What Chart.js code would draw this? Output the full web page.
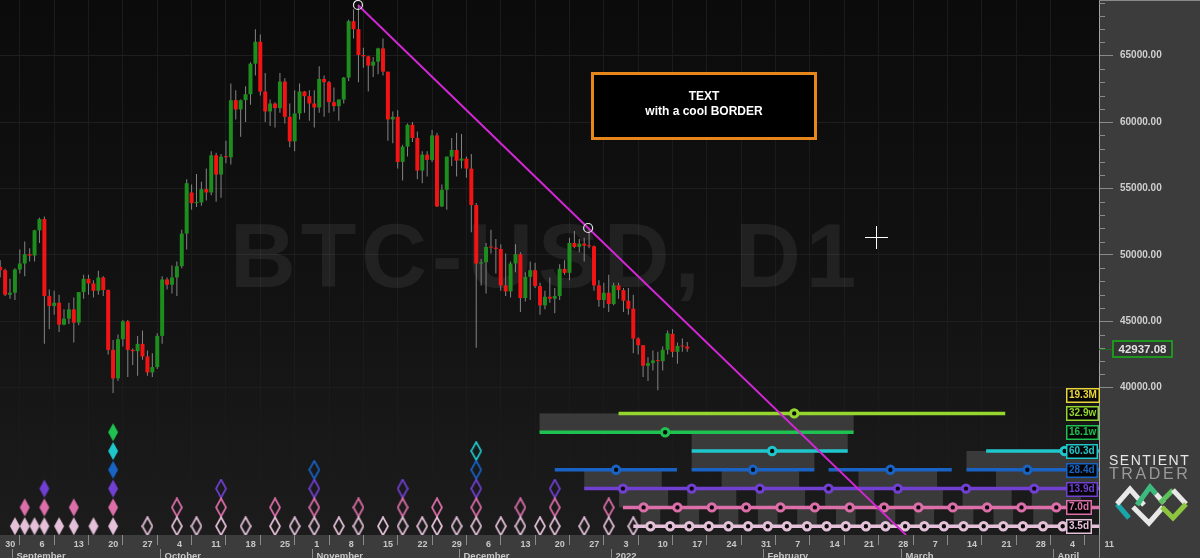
<!DOCTYPE html>
<html><head><meta charset="utf-8">
<script src="https://cdn.jsdelivr.net/npm/chart.js@4.4.1/dist/chart.umd.min.js"></script>
<style>html,body{margin:0;padding:0;background:#3c3c3c;overflow:hidden}canvas{display:block}</style>
</head><body>
<canvas id="c" width="1200" height="558"></canvas>
<script>
// ---- data (x = days relative to Mon 6 Sep 2021) ----
const firstDay = -8; // 29 Aug 2021
const opens = [49100,48850,47000,47150,48900,49350,50050,49950,51850,52700,
46900,46150,46400,44750,45200,45900,44900,47200,48200,47850,
47300,48300,47350,42850,40700,43650,45000,42850,42750,43300,
42350,41150,41550,43900,48150,47750,48300,49150,51600,54700,
53900,53950,54950,54700,57500,56050,57400,57350,61650,60950,
61650,62100,64400,66050,62300,60800,61400,61050,63050,60400,
58550,60650,62300,61950,61400,61100,63250,63000,61500,61200,
61700,63350,67600,67000,65050,64950,64250,64550,65550,63800,
60200,60400,57000,58150,59800,58800,56350,57550,57150,59000,
53650,54900,57400,57900,57100,57250,56500,53750,49350,49450,
50600,50550,50450,47700,47250,49350,50050,46750,48350,48850,
47650,46200,46850,46700,46900,48950,48650,50900,50600,50850,
50700,50650,47700,46600,47150,46300,47700,47350,46550,45950,
43700,43200,41650,41850,42050,42000,42850,44050,42700,43150,
43100];
const highs = [49600,48950,48200,49000,50400,51000,50500,51900,52800,52900,
47400,47300,47000,45900,46400,46800,47200,48500,48500,48100,
48800,48400,47400,43600,44000,45100,45100,42950,43900,44300,
42800,42600,44100,48400,48300,49200,49500,51900,55700,55300,
56100,55500,56500,57800,57700,57600,58600,62900,62400,61700,
62700,64500,67000,66600,63700,61700,61500,63700,63300,61400,
62400,62900,62350,62400,62400,64200,63500,63100,62600,61700,
63400,67700,68500,68800,65600,65000,64900,65600,66300,63800,
60800,60900,58300,59900,60000,59300,57800,57800,59400,59200,
55300,57400,58800,59200,59100,57400,57600,53900,49700,50900,
51900,51200,50800,50100,49500,50800,50200,48700,49500,49400,
47900,47300,48300,47500,49300,49600,51300,51800,51200,51300,
51950,50700,48100,47900,48500,47900,47900,47500,47500,47000,
43800,43200,42300,42800,42700,43100,44300,44400,43400,43700,
43450];
const lows = [48300,46900,46700,46600,48600,48400,49500,49500,50900,43300,
44400,45500,44200,44700,44800,43400,44700,46700,47000,46800,
47000,46900,42500,39600,40500,43100,40800,41700,40900,42100,
40900,40800,41400,43300,47400,47100,46900,49000,50400,53400,
53600,53700,54100,54500,54000,54300,56900,56800,60200,58900,
60000,61300,63500,62000,60000,59700,59600,60700,59900,58100,
57800,60200,60700,60100,59600,60700,60400,60700,60800,60100,
61400,63100,66300,63000,64100,62300,63400,63600,63500,58600,
58400,56500,55600,57400,58500,55700,55400,55900,57000,53600,
53600,53400,56700,55900,56500,55800,51700,43000,47700,47100,
50100,48600,47300,46900,46800,48700,45700,46500,46600,47500,
45500,45900,46400,45600,46600,48500,48100,50500,50200,49500,
50500,47300,46100,46000,45700,46200,46700,45700,45500,42600,
42500,40800,40500,41300,39800,41300,42500,42300,41800,42700,
42700];
const closes = [48850,47000,47150,48900,49350,50050,49950,51850,52700,46900,
46150,46400,44750,45200,45900,44900,47200,48200,47850,47300,
48300,47350,42850,40700,43650,45000,42850,42750,43300,42350,
41150,41550,43900,48150,47750,48300,49150,51600,55400,53900,
53950,54950,54700,57500,56050,57400,57350,61650,60950,61650,
62100,64400,66050,62300,60800,61400,61050,63050,60400,58550,
60650,62300,61950,61400,61100,63250,63000,61500,61200,61700,
63350,67600,67000,65050,64950,64250,64550,65550,63800,60200,
60400,57000,58150,59800,58800,56350,57550,57150,59000,53650,
54900,57400,57900,57100,57250,56500,53750,49350,49450,50600,
50550,50450,47700,47250,49350,50050,46750,48350,48850,47650,
46200,46850,46700,46900,48950,48650,50900,50600,50850,50700,
50650,47700,46600,47150,46300,47700,47350,46550,45950,43700,
43200,41650,41850,42050,42000,42850,44100,42700,43150,43100,
42937.08];
const lastPrice = 42937.08;

const weekTickDays = [-7,0,7,14,21,28,35,42,49,56,63,70,77,84,91,98,105,112,119,126,133,140,147,154,161,168,175,182,189,196,203,210,217];
const weekTickLabels = ['30','6','13','20','27','4','11','18','25','1','8','15','22','29','6','13','20','27','3','10','17','24','31','7','14','21','28','7','14','21','28','4','11'];
const monthStartDays = [-5,25,56,86,117,148,176,207];
const monthLabels = ['September','October','November','December','2022','February','March','April'];
const priceTicks = [40000,45000,50000,55000,60000,65000];

const trendX = [64.9, 111.8, 176.6];
const trendY = [68820, 52025, 28900];

const cycleNames = ['3.5d','7.0d','13.9d','28.4d','60.3d','16.1w','32.9w','19.3M'];
const cycleColors = ['#e4c0d9','#dc6fa9','#7140d2','#1863c4','#1fc7cc','#1fc150','#95d72e','#ead63c'];
const pastTroughs = [[-5,-3,-1,1,4,7,11,15],[-3,1,7,15],[1,15],[15],[15],[15],[],[]];
const nextTroughs = [[22,28,32,37,42,48,52,56,61,65,70,74,78,81,85,89,94,98,102,105,111,116,121],
  [28,37,48,56,65,74,81,89,98,105,116],[37,56,74,89,105],[56,89],[89],[],[],[]];
const projLines = [[[121,215.9]],[[118.9,215.9]],[[111,215.9]],
  [[105,129.9],[132.9,157.9],[160.8,185.9],[188.9,215.9]],
  [[132.9,164.7],[192.9,215.9]],[[101.9,165.9]],[[118,196.8]],[]];
const projPoints = [[124.5,128.5,132.4,136.4,140.4,144.4,148.4,152.3,156.4,160.4,164.3,168.4,172.4,176.4,180.3,184.3,188.3,192.4,196.4,200.4,204.5,208.5],
  [123.1,130.0,137.0,144.0,151.0,158.0,165.1,172.1,179.1,186.1,193.1,200.1,207.2],
  [118.9,132.9,146.8,160.8,174.9,188.8,202.7],
  [117.5,145.4,173.4,201.3],[149.3,208.9],[127.5],[153.8],[]];
const projBoxes = [[[122.5,126.5],[130.4,134.4],[138.4,142.4],[146.4,150.4],[154.4,158.4],[162.3,166.3],[170.4,174.4],[178.3,182.3],[186.3,190.3],[194.4,198.4],[202.5,206.5]],
  [[118.1,128.1],[132,142],[146,156],[160.1,170.1],[174.1,184.1],[188.1,198.1],[202.2,212.2]],
  [[111,126.8],[139,154.8],[166.9,182.9],[194.9,215.9]],
  [[132.9,157.9],[188.9,215.9]],[[132.9,164.7]],[[101.9,165.9]],[],[]];

const watermarkText = 'BTC-USD, D1';
const boxLines = ['TEXT','with a cool BORDER'];
const logoLines = ['SENTIENT','TRADER'];

// ---- build ----
const FONT = '"Liberation Sans", Arial, sans-serif';
Chart.defaults.font.family = FONT;
const UP = '#1d8d1d', DOWN = '#f21414';

function diamondImg(color, filled) {
  const c = document.createElement('canvas'); c.width = 12; c.height = 20;
  const g = c.getContext('2d');
  g.beginPath(); g.moveTo(6, 1); g.lineTo(11, 10); g.lineTo(6, 19); g.lineTo(1, 10); g.closePath();
  if (filled) { g.fillStyle = color; g.fill(); }
  else { g.strokeStyle = color; g.lineWidth = 1.7; g.stroke(); }
  return c;
}

const datasets = [];
const idx = opens.map((_, i) => firstDay + i);
datasets.push({type: 'bar', data: idx.map((d, i) => ({x: d, y: [lows[i], highs[i]]})),
  backgroundColor: '#858585', barThickness: 1, grouped: false, inflateAmount: 0, order: 20});
datasets.push({type: 'bar', data: idx.map((d, i) => ({x: d, y: [opens[i], closes[i]]})),
  backgroundColor: opens.map((o, i) => closes[i] >= o ? UP : DOWN),
  barThickness: 4, grouped: false, minBarLength: 1, inflateAmount: 0, order: 19});

cycleNames.forEach((n, row) => {
  const col = cycleColors[row];
  projLines[row].forEach(([a, b]) => datasets.push({type: 'line', yAxisID: 'yc',
    data: [{x: a, y: row}, {x: b, y: row}], borderColor: col, borderWidth: 3.5, pointRadius: 0, order: 6}));
  if (projPoints[row].length) datasets.push({type: 'line', yAxisID: 'yc', showLine: false,
    data: projPoints[row].map(x => ({x, y: row})), pointStyle: 'circle', pointRadius: 3.7,
    pointBorderWidth: 3, pointBorderColor: col, pointBackgroundColor: '#0b0b0b', order: 5});
  if (pastTroughs[row].length) datasets.push({type: 'line', yAxisID: 'yc', showLine: false,
    data: pastTroughs[row].map(x => ({x, y: row})), pointStyle: diamondImg(col, true), pointRadius: 6, order: 5});
  if (nextTroughs[row].length) datasets.push({type: 'line', yAxisID: 'yc', showLine: false,
    data: nextTroughs[row].map(x => ({x, y: row})), pointStyle: diamondImg(col, false), pointRadius: 6, order: 5});
});

datasets.push({type: 'line', data: trendX.map((x, i) => ({x, y: trendY[i]})), borderColor: '#d126d4',
  borderWidth: 2, pointRadius: [4.5, 4.5, 0], pointBorderColor: '#e6e6e6', pointBorderWidth: 1.2,
  pointBackgroundColor: 'rgba(0,0,0,0)', order: 0});

const deco = {
  id: 'deco',
  beforeDraw(chart) {
    const {ctx, chartArea: a} = chart;
    ctx.save();
    ctx.fillStyle = '#3c3c3c'; ctx.fillRect(0, 0, chart.width, chart.height);
    const g = ctx.createLinearGradient(0, a.top, 0, a.bottom);
    g.addColorStop(0, '#0b0b0b'); g.addColorStop(0.55, '#121212'); g.addColorStop(1, '#1c1c1c');
    ctx.fillStyle = g; ctx.fillRect(a.left, a.top, a.right - a.left, a.bottom - a.top);
    ctx.restore();
  },
  beforeDatasetsDraw(chart) {
    const {ctx, chartArea: a, scales} = chart;
    ctx.save();
    ctx.beginPath(); ctx.rect(a.left, a.top, a.right - a.left, a.bottom - a.top); ctx.clip();
    ctx.font = 'bold 91px ' + FONT; ctx.letterSpacing = '5px';
    ctx.fillStyle = 'rgba(255,255,255,0.07)'; ctx.textAlign = 'left'; ctx.textBaseline = 'alphabetic';
    ctx.fillText(watermarkText, 230, 287);
    ctx.letterSpacing = '0px';
    ctx.fillStyle = '#3a3a3a';
    projBoxes.forEach((boxes, row) => boxes.forEach(([s, e]) => {
      const x1 = scales.x.getPixelForValue(s), x2 = scales.x.getPixelForValue(e);
      const y1 = scales.yc.getPixelForValue(row + 1), y2 = scales.yc.getPixelForValue(row);
      ctx.fillRect(x1, y1, x2 - x1, y2 - y1);
    }));
    ctx.restore();
  },
  afterDatasetsDraw(chart) {
    const {ctx, scales} = chart;
    ctx.save();
    // cycle labels
    ctx.font = 'bold 10px ' + FONT; ctx.textBaseline = 'middle'; ctx.textAlign = 'left';
    cycleNames.forEach((name, i) => {
      const y = Math.round(scales.yc.getPixelForValue(i));
      const w = Math.round(ctx.measureText(name).width + 6);
      const x = 1066;
      ctx.fillStyle = '#050505'; ctx.fillRect(x, y - 7, w, 15);
      ctx.strokeStyle = cycleColors[i]; ctx.lineWidth = 1.5; ctx.strokeRect(x + 0.75, y - 6.25, w - 1.5, 13.5);
      ctx.fillStyle = cycleColors[i]; ctx.fillText(name, x + 3, y + 0.5);
    });
    // text box
    ctx.fillStyle = '#000'; ctx.fillRect(591, 72, 226, 68);
    ctx.strokeStyle = '#e8861c'; ctx.lineWidth = 3; ctx.strokeRect(592.5, 73.5, 223, 65);
    ctx.fillStyle = '#ffffff'; ctx.font = 'bold 12px ' + FONT; ctx.textAlign = 'center';
    ctx.fillText(boxLines[0], 704, 97); ctx.fillText(boxLines[1], 704, 112);
    // crosshair
    ctx.strokeStyle = '#ffffff'; ctx.lineWidth = 1;
    ctx.beginPath(); ctx.moveTo(865, 237.5); ctx.lineTo(888, 237.5); ctx.moveTo(876.5, 226); ctx.lineTo(876.5, 249); ctx.stroke();
    ctx.restore();
  },
  afterDraw(chart) {
    const {ctx, scales} = chart;
    ctx.save();
    ctx.strokeStyle = '#8a8a8a'; ctx.lineWidth = 1;
    // minor price ticks
    ctx.beginPath();
    for (let v = 40000; v <= 69000; v += 1000) {
      if (v % 5000 === 0) continue;
      const y = Math.round(scales.y.getPixelForValue(v)) + 0.5;
      ctx.moveTo(1099, y); ctx.lineTo(1105, y);
    }
    ctx.moveTo(1099.5, 535); ctx.lineTo(1099.5, 558);
    ctx.moveTo(1099, 0.5); ctx.lineTo(1200, 0.5);
    ctx.stroke();
    // month row
    ctx.font = 'bold 9.5px ' + FONT; ctx.fillStyle = '#c8c8c8'; ctx.textAlign = 'left'; ctx.textBaseline = 'middle';
    monthStartDays.forEach((d, i) => {
      const x = Math.round(scales.x.getPixelForValue(d - 0.5)) + 0.5;
      ctx.beginPath(); ctx.moveTo(x, 549); ctx.lineTo(x, 558); ctx.stroke();
      ctx.fillText(monthLabels[i], x + 4, 556.5);
    });
    // price tag
    const py = Math.round(scales.y.getPixelForValue(lastPrice)) + 0.5;
    ctx.strokeStyle = '#1b6e1b'; ctx.beginPath(); ctx.moveTo(1099, py); ctx.lineTo(1112, py); ctx.stroke();
    ctx.fillStyle = '#353535'; ctx.fillRect(1112, py - 9.5, 61, 18);
    ctx.strokeStyle = '#1e951e'; ctx.lineWidth = 2; ctx.strokeRect(1113, py - 8.5, 59, 16);
    ctx.fillStyle = '#e2e2e2'; ctx.font = 'bold 11.5px ' + FONT; ctx.textAlign = 'center';
    ctx.fillText(lastPrice.toFixed(2), 1142.5, py + 0.5);
    // logo
    ctx.textAlign = 'left'; ctx.textBaseline = 'alphabetic';
    ctx.font = '14px ' + FONT; ctx.letterSpacing = '1.5px'; ctx.fillStyle = '#e6e6e6';
    ctx.fillText(logoLines[0], 1109, 465);
    ctx.font = '16px ' + FONT; ctx.letterSpacing = '2.6px'; ctx.fillStyle = '#9a9a9a';
    ctx.fillText(logoLines[1], 1109, 479);
    ctx.letterSpacing = '0px';
    ctx.lineWidth = 5; ctx.lineCap = 'butt'; ctx.lineJoin = 'miter';
    const seg = (pts, col) => { ctx.strokeStyle = col; ctx.beginPath(); ctx.moveTo(pts[0][0], pts[0][1]);
      for (let k = 1; k < pts.length; k++) ctx.lineTo(pts[k][0], pts[k][1]); ctx.stroke(); };
    seg([[1117, 504], [1129, 518]], '#1aa5a8');
    seg([[1133, 507], [1149, 523], [1163, 507]], '#e8e8e8');
    seg([[1117, 504], [1130, 489], [1144, 505]], '#e8e8e8');
    seg([[1137, 505], [1150, 487], [1156, 494]], '#3dbb7e');
    seg([[1156, 494], [1164, 503]], '#e8e8e8');
    seg([[1160, 503], [1173, 490]], '#5cc05c');
    seg([[1173, 490], [1186, 504]], '#e8e8e8');
    seg([[1186, 504], [1173, 518], [1162, 507]], '#8cc63f');
    ctx.restore();
  }
};

new Chart(document.getElementById('c'), {
  type: 'line',
  data: {datasets},
  options: {
    responsive: false, animation: false, events: [],
    layout: {padding: 0, autoPadding: false},
    plugins: {legend: {display: false}, tooltip: {enabled: false}},
    scales: {
      x: {
        type: 'linear', min: -8.04, max: 215.9, offset: false,
        afterBuildTicks: s => { s.ticks = weekTickDays.map(d => ({value: d - 0.5})); },
        afterFit: s => { s.height = 23; s.paddingLeft = 0; s.paddingRight = 0; },
        grid: {color: c => (c.tick && c.tick.value > 215.9) ? 'rgba(0,0,0,0)' : '#1b1b1b',
               tickColor: '#8a8a8a', tickLength: 10, drawTicks: true},
        border: {display: false},
        ticks: {autoSkip: false, maxRotation: 0, minRotation: 0, align: 'start', padding: -6,
                color: '#c8c8c8', font: {size: 9, weight: 'bold', lineHeight: 1.2},
                callback: (v, i) => ' ' + weekTickLabels[i]}
      },
      y: {
        type: 'linear', position: 'right', min: 28908, max: 69194,
        afterBuildTicks: s => { s.ticks = priceTicks.map(v => ({value: v})); },
        afterFit: s => { s.width = 101; s.paddingTop = 0; s.paddingBottom = 0; },
        grid: {color: '#1e1e1e', tickColor: '#8a8a8a', tickLength: 14, drawTicks: true},
        border: {color: '#a4a4a4'},
        ticks: {color: '#cfcfcf', padding: 7, font: {size: 10, weight: 'bold'}, callback: v => Number(v).toFixed(2)}
      },
      yc: {type: 'linear', display: false, min: -0.468, max: 27.99}
    }
  },
  plugins: [deco]
});
</script>
</body></html>
